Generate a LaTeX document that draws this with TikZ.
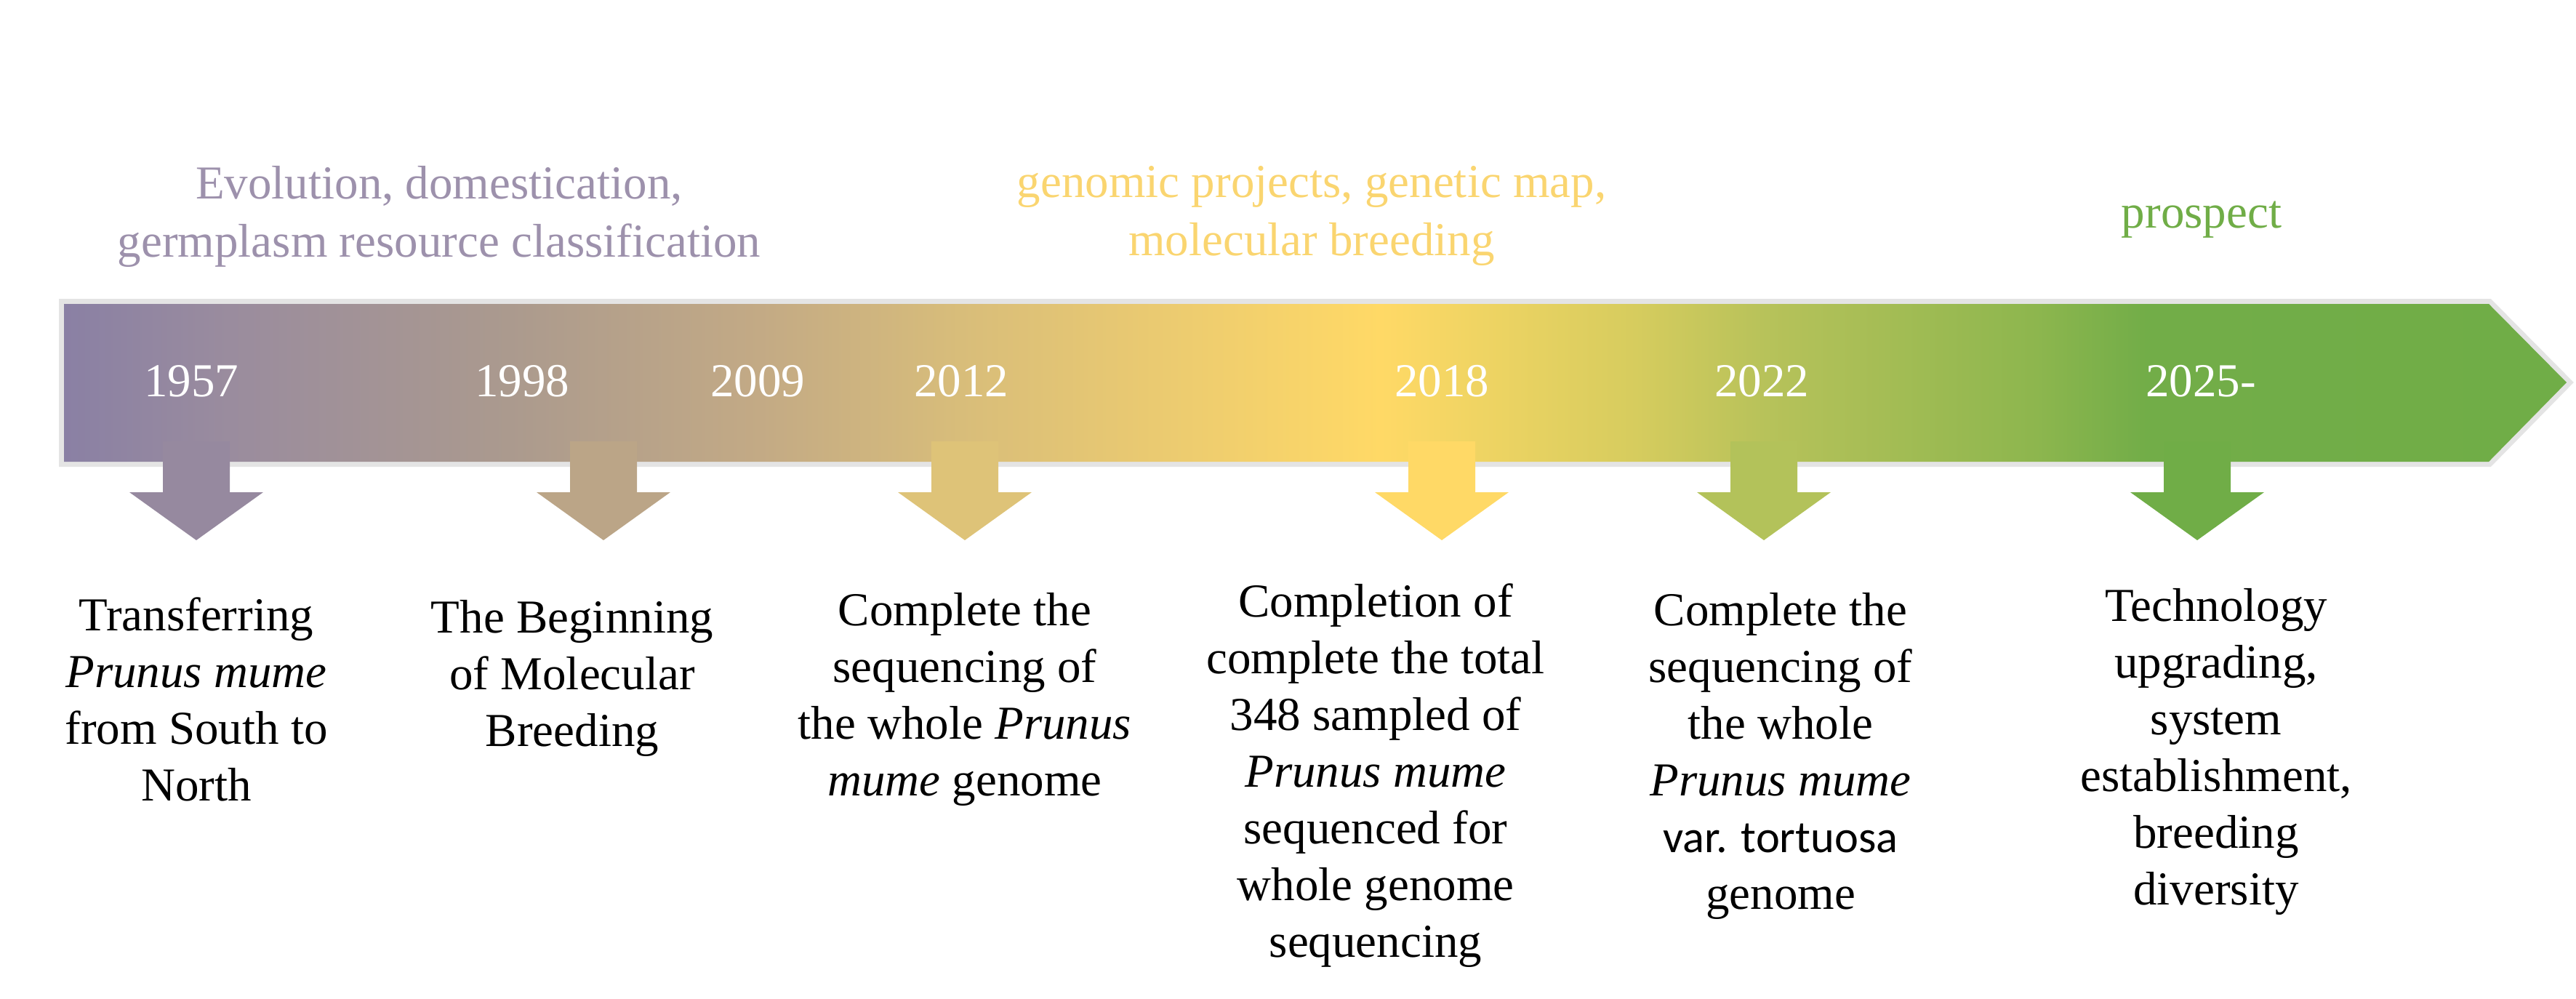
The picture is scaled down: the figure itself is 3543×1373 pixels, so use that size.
\documentclass[tikz,border=0pt]{standalone}
\usepackage{fontspec}
\setmainfont{Liberation Serif}
\newfontfamily\carlfont{Carlito}
\definecolor{c0}{HTML}{8A80A4}
\definecolor{c1}{HTML}{9A8C9E}
\definecolor{c2}{HTML}{AB9A8E}
\definecolor{c3}{HTML}{C3AA85}
\definecolor{c4}{HTML}{D8BD7A}
\definecolor{c5}{HTML}{FFD966}
\definecolor{c6}{HTML}{D6CC5E}
\definecolor{c7}{HTML}{B7C25A}
\definecolor{c8}{HTML}{8DB64E}
\definecolor{c9}{HTML}{72AD48}
\definecolor{c10}{HTML}{70AD47}
\definecolor{barborder}{HTML}{E4E4E4}
\definecolor{arrA}{HTML}{96899F}
\definecolor{arrB}{HTML}{BBA587}
\definecolor{arrC}{HTML}{DEC378}
\definecolor{arrD}{HTML}{FFD966}
\definecolor{arrE}{HTML}{B3C25A}
\definecolor{arrF}{HTML}{70AD47}
\definecolor{labpurple}{HTML}{9D91AC}
\definecolor{labyellow}{HTML}{FAD570}
\definecolor{labgreen}{HTML}{70AD47}
\pgfdeclarehorizontalshading{barshade}{100bp}{color(0bp)=(c0); color(25bp)=(c0); color(28.3bp)=(c1); color(33.9bp)=(c2); color(38.9bp)=(c3); color(42.9bp)=(c4); color(51.3bp)=(c5); color(56.4bp)=(c6); color(59bp)=(c7); color(64.4bp)=(c8); color(66.6bp)=(c9); color(75bp)=(c10); color(100bp)=(c10)}
\tikzset{
  basefont/.style={font=\fontsize{16.25pt}{19.5pt}\selectfont},
  yearlabel/.style={basefont, text=white, inner sep=0pt, anchor=base},
  desc/.style={basefont, text=black, inner sep=0pt, align=center, anchor=north},
  eralabel/.style={font=\fontsize{16.25pt}{20pt}\selectfont, inner sep=0pt, align=center},
  blockarrow/.style={draw=none}
}
\begin{document}
\begin{tikzpicture}[x=0.25pt,y=-0.25pt]
\useasboundingbox (0,0) rectangle (3543,1373);
% timeline bar
\path[draw=barborder, line width=3.5pt, line join=miter, miter limit=4]
  (88,418) -- (3423,418) -- (3530,526) -- (3423,635) -- (88,635) -- cycle;
\shade[shading=barshade]
  (88,418) -- (3423,418) -- (3530,526) -- (3423,635) -- (88,635) -- cycle;
% down arrows
\foreach \ax/\ac in {270/arrA, 830/arrB, 1327/arrC, 1983/arrD, 2426/arrE, 3022/arrF}{
  \fill[\ac, shift={(\ax,0)}] (-46,607) -- (46,607) -- (46,677) -- (92,677) -- (0,743) -- (-92,677) -- (-46,677) -- cycle;
}
% years
\node[yearlabel] (y1957) at (263,545) {1957};
\node[yearlabel] (y1998) at (718,545) {1998};
\node[yearlabel] (y2009) at (1042,545) {2009};
\node[yearlabel] (y2012) at (1322,545) {2012};
\node[yearlabel] (y2018) at (1983,545) {2018};
\node[yearlabel] (y2022) at (2423,545) {2022};
\node[yearlabel] (y2025) at (3027,545) {2025-};
% era labels
\node[eralabel, text=labpurple, anchor=north] (era1) at (604,228) {Evolution, domestication,\\germplasm resource classification};
\node[eralabel, text=labyellow, anchor=north] (era2) at (1804,228) {genomic projects, genetic map,\\molecular breeding};
\node[eralabel, text=labgreen, anchor=base] (era3) at (3028,313) {prospect};
% descriptions
\node[desc] (d1957) at (270,821) {Transferring\\\textit{Prunus mume}\\from South to\\North};
\node[desc] (d1998) at (787,825) {The Beginning\\of Molecular\\Breeding};
\node[desc] (d2012) at (1327,815) {Complete the\\sequencing of\\the whole \textit{Prunus}\\\textit{mume} genome};
\node[desc] (d2018) at (1892,802) {Completion of\\complete the total\\348 sampled of\\\textit{Prunus mume}\\sequenced for\\whole genome\\sequencing};
\node[desc] (d2022) at (2449,815) {Complete the\\sequencing of\\the whole\\\textit{Prunus mume}\\{\carlfont\fontsize{15.6pt}{19.5pt}\selectfont var. tortuosa}\\genome};
\node[desc] (d2025) at (3048,809) {Technology\\upgrading,\\system\\establishment,\\breeding\\diversity};
\end{tikzpicture}
\end{document}
